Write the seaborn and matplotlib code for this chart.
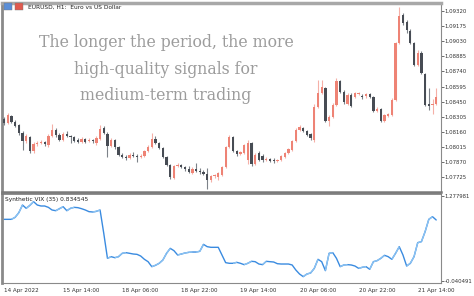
import numpy as np
import pandas as pd
import matplotlib
matplotlib.use("Agg")
import matplotlib.pyplot as plt
import matplotlib.patches as mpatches
import seaborn as sns

# ---------------- data (EURUSD H1) ----------------
opens = [1.08283, 1.08245, 1.08312, 1.08254, 1.08226, 1.08149, 1.08072, 1.08110, 1.07976, 1.08043,
         1.08053, 1.08062, 1.08034, 1.08120, 1.08178, 1.08130, 1.08082, 1.08139, 1.08120, 1.08110,
         1.08082, 1.08062, 1.08091, 1.08072, 1.08082, 1.08053, 1.08091, 1.08197, 1.08139, 1.08024,
         1.08082, 1.08014, 1.07938, 1.07918, 1.07909, 1.07938, 1.07928, 1.07918, 1.07928, 1.07976,
         1.08014, 1.08091, 1.08053, 1.08005, 1.07918, 1.07842, 1.07717, 1.07832, 1.07842, 1.07822,
         1.07803, 1.07765, 1.07803, 1.07784, 1.07774, 1.07755, 1.07698, 1.07736, 1.07726, 1.07746,
         1.07822, 1.08014, 1.08110, 1.07976, 1.07947, 1.07957, 1.07890, 1.08053, 1.07851, 1.07957,
         1.07928, 1.07890, 1.07899, 1.07890, 1.07880, 1.07890, 1.07918, 1.07957, 1.07986, 1.08072,
         1.08178, 1.08197, 1.08168, 1.08139, 1.08082, 1.08398, 1.08533, 1.08581, 1.08264, 1.08302,
         1.08418, 1.08648, 1.08542, 1.08427, 1.08514, 1.08494, 1.08523, 1.08504, 1.08504, 1.08523,
         1.08494, 1.08360, 1.08379, 1.08264, 1.08312, 1.08322, 1.08466, 1.09013, 1.09282, 1.09214,
         1.09128, 1.09013, 1.08802, 1.08917, 1.08715, 1.08427, 1.08418, 1.08427]
closes = [1.08245, 1.08322, 1.08254, 1.08216, 1.08149, 1.08072, 1.08120, 1.07976, 1.08043, 1.08053,
          1.08062, 1.08043, 1.08120, 1.08178, 1.08130, 1.08082, 1.08139, 1.08120, 1.08110, 1.08072,
          1.08062, 1.08091, 1.08062, 1.08082, 1.08072, 1.08101, 1.08187, 1.08149, 1.08024, 1.08082,
          1.08014, 1.07938, 1.07918, 1.07909, 1.07938, 1.07928, 1.07918, 1.07928, 1.07976, 1.08014,
          1.08091, 1.08053, 1.08005, 1.07918, 1.07842, 1.07726, 1.07832, 1.07842, 1.07822, 1.07803,
          1.07774, 1.07803, 1.07784, 1.07774, 1.07755, 1.07698, 1.07736, 1.07746, 1.07765, 1.07822,
          1.08014, 1.08110, 1.07976, 1.07947, 1.07966, 1.08034, 1.08053, 1.07851, 1.07938, 1.07890,
          1.07890, 1.07899, 1.07880, 1.07880, 1.07890, 1.07928, 1.07957, 1.07995, 1.08072, 1.08178,
          1.08206, 1.08168, 1.08130, 1.08101, 1.08398, 1.08533, 1.08590, 1.08264, 1.08302, 1.08418,
          1.08648, 1.08542, 1.08446, 1.08514, 1.08408, 1.08533, 1.08533, 1.08494, 1.08523, 1.08494,
          1.08360, 1.08379, 1.08264, 1.08322, 1.08331, 1.08466, 1.09013, 1.09272, 1.09205, 1.09138,
          1.09013, 1.08802, 1.08917, 1.08725, 1.08418, 1.08408, 1.08427, 1.08494]
highs = [1.08302, 1.08341, 1.08322, 1.08274, 1.08235, 1.08168, 1.08139, 1.08120, 1.08062, 1.08072,
         1.08082, 1.08072, 1.08139, 1.08235, 1.08197, 1.08149, 1.08158, 1.08168, 1.08130, 1.08120,
         1.08101, 1.08110, 1.08101, 1.08101, 1.08091, 1.08120, 1.08226, 1.08216, 1.08158, 1.08101,
         1.08091, 1.08024, 1.07957, 1.07938, 1.07957, 1.07966, 1.07947, 1.07947, 1.07986, 1.08034,
         1.08149, 1.08120, 1.08062, 1.08014, 1.07928, 1.07851, 1.07842, 1.07861, 1.07851, 1.07832,
         1.07832, 1.07822, 1.07861, 1.07813, 1.07794, 1.07813, 1.07746, 1.07755, 1.07774, 1.07832,
         1.08024, 1.08130, 1.08120, 1.07986, 1.07976, 1.08043, 1.08082, 1.08062, 1.07957, 1.07976,
         1.07947, 1.07918, 1.07909, 1.07909, 1.07899, 1.07938, 1.07966, 1.08005, 1.08082, 1.08197,
         1.08226, 1.08206, 1.08178, 1.08149, 1.08427, 1.08658, 1.08658, 1.08590, 1.08322, 1.08437,
         1.08677, 1.08658, 1.08562, 1.08533, 1.08533, 1.08542, 1.08542, 1.08523, 1.08533, 1.08533,
         1.08504, 1.08398, 1.08389, 1.08331, 1.08341, 1.08485, 1.09022, 1.09358, 1.09301, 1.09234,
         1.09147, 1.09022, 1.08946, 1.08936, 1.08725, 1.08581, 1.08475, 1.08581]
lows = [1.08226, 1.08235, 1.08245, 1.08206, 1.08130, 1.07986, 1.08053, 1.07957, 1.07957, 1.08024,
        1.08043, 1.08024, 1.08014, 1.08110, 1.08110, 1.08072, 1.08072, 1.08110, 1.08053, 1.08062,
        1.08053, 1.08053, 1.08053, 1.08062, 1.08053, 1.08034, 1.08082, 1.08139, 1.07918, 1.08014,
        1.07995, 1.07928, 1.07909, 1.07890, 1.07899, 1.07918, 1.07870, 1.07909, 1.07918, 1.07966,
        1.08005, 1.08043, 1.07995, 1.07909, 1.07832, 1.07707, 1.07707, 1.07822, 1.07813, 1.07784,
        1.07765, 1.07755, 1.07774, 1.07755, 1.07746, 1.07611, 1.07678, 1.07717, 1.07698, 1.07736,
        1.07813, 1.08005, 1.07966, 1.07928, 1.07938, 1.07947, 1.07851, 1.07832, 1.07842, 1.07880,
        1.07870, 1.07880, 1.07870, 1.07861, 1.07870, 1.07880, 1.07909, 1.07947, 1.07976, 1.08062,
        1.08168, 1.08158, 1.08120, 1.08082, 1.08062, 1.08389, 1.08523, 1.08254, 1.08216, 1.08293,
        1.08408, 1.08533, 1.08427, 1.08418, 1.08398, 1.08485, 1.08514, 1.08475, 1.08485, 1.08485,
        1.08350, 1.08350, 1.08254, 1.08254, 1.08302, 1.08312, 1.08456, 1.09003, 1.09186, 1.09109,
        1.09003, 1.08792, 1.08792, 1.08715, 1.08408, 1.08370, 1.08331, 1.08418]

vix = [0.916, 0.916, 0.916, 0.947, 1.019, 1.138, 1.087, 1.133, 1.190, 1.138,
       1.123, 1.123, 1.102, 1.061, 1.050, 1.081, 1.112, 1.050, 1.087, 1.102,
       1.097, 1.081, 1.061, 1.035, 1.030, 1.040, 1.061, 0.699, 0.311, 0.337,
       0.321, 0.337, 0.389, 0.399, 0.389, 0.378, 0.373, 0.347, 0.296, 0.259,
       0.182, 0.203, 0.234, 0.285, 0.389, 0.466, 0.430, 0.363, 0.378, 0.394,
       0.404, 0.409, 0.409, 0.420, 0.528, 0.492, 0.482, 0.482, 0.482, 0.363,
       0.244, 0.234, 0.234, 0.249, 0.234, 0.213, 0.234, 0.265, 0.259, 0.223,
       0.213, 0.265, 0.259, 0.254, 0.228, 0.223, 0.223, 0.223, 0.208, 0.130,
       0.068, 0.027, 0.068, 0.084, 0.156, 0.296, 0.259, 0.120, 0.389, 0.399,
       0.311, 0.182, 0.208, 0.213, 0.208, 0.192, 0.156, 0.172, 0.182, 0.141,
       0.259, 0.275, 0.311, 0.358, 0.337, 0.296, 0.389, 0.492, 0.363, 0.192,
       0.234, 0.337, 0.554, 0.570, 0.725, 0.916, 0.957, 0.906]

time_labels = ["14 Apr 2022", "15 Apr 14:00", "18 Apr 06:00", "18 Apr 22:00",
               "19 Apr 14:00", "20 Apr 06:00", "20 Apr 22:00", "21 Apr 14:00"]
bars_per_label = 16
price_ticks = [1.09320, 1.09175, 1.09030, 1.08885, 1.08740, 1.08595,
               1.08450, 1.08305, 1.08160, 1.08015, 1.07870, 1.07725]
vix_ticks = [1.277981, -0.040491]
symbol_text = "EURUSD, H1:  Euro vs US Dollar"
indicator_text = "Synthetic VIX (35) 0.834545"
overlay_text = "The longer the period, the more\nhigh-quality signals for\nmedium-term trading"

# ---------------- figure ----------------
sns.set_style("white")
plt.rcParams["font.family"] = ["DejaVu Sans"]

W, H = 474, 296
fig = plt.figure(figsize=(W / 100, H / 100), dpi=100)
fig.patch.set_facecolor("white")

left = 2 / W
right = 441 / W
ax1 = fig.add_axes([left, 1 - 192 / H, right - left, (192 - 3) / H])
ax2 = fig.add_axes([left, 1 - 283 / H, right - left, (283 - 194) / H])

df = pd.DataFrame({"idx": np.arange(len(opens)), "open": opens, "high": highs,
                   "low": lows, "close": closes})
up = (df["close"] >= df["open"]).to_numpy()
body_col = np.where(up, "#ee8375", "#474c54")
wick_col = np.where(up, "#f5b0a7", "#7d8289")

ax1.vlines(df["idx"], df["low"], df["high"], colors=wick_col, linewidth=0.8, zorder=2)
ax1.bar(df["idx"], df["close"] - df["open"], bottom=df["open"], width=0.62,
        color=body_col, linewidth=0, zorder=3)

xmin, xmax = -0.55, 118.3
ax1.set_xlim(xmin, xmax)
ax1.set_ylim(1.07582, 1.09397)

# VIX panel
vdf = pd.DataFrame({"idx": np.arange(len(vix)), "vix": vix})
sns.lineplot(data=vdf, x="idx", y="vix", ax=ax2, color="#3a8be0", linewidth=1.0, zorder=2)
for i in range(len(vix) - 1):
    if vix[i + 1] > vix[i]:
        ax2.plot([i, i + 1], [vix[i], vix[i + 1]], color="#8cc3f2", linewidth=1.0,
                 solid_capstyle="butt", zorder=3)
ax2.set_xlim(xmin, xmax)
ax2.set_ylim(-0.0715, 1.309)

# axes styling
for ax in (ax1, ax2):
    ax.set_facecolor("white")
    ax.set_xlabel("")
    ax.set_ylabel("")
    for s in ax.spines.values():
        s.set_color("#8a8a8a")
        s.set_linewidth(0.8)
    ax.yaxis.tick_right()
    ax.tick_params(axis="y", direction="out", length=2.0, width=0.6, color="#555555",
                   labelsize=3.9, labelcolor="#333333", pad=0.8)
ax1.spines["left"].set_linewidth(2.0)
ax2.spines["left"].set_linewidth(2.0)
ax1.spines["top"].set_linewidth(2.5)
ax1.spines["top"].set_color("#a8a8a8")
ax1.spines["bottom"].set_linewidth(1.8)
ax1.spines["bottom"].set_color("#7a7a7a")
ax2.spines["top"].set_linewidth(1.2)
ax2.spines["top"].set_color("#7a7a7a")

ax1.set_yticks(price_ticks)
ax1.set_yticklabels([f"{v:.5f}" for v in price_ticks])
ax1.set_xticks([])

ax2.set_yticks(vix_ticks)
ax2.set_yticklabels([f"{v:.6f}" for v in vix_ticks])
ax2.set_xticks([i * bars_per_label for i in range(len(time_labels))])
ax2.set_xticklabels(time_labels, ha="left")
ax2.tick_params(axis="x", direction="out", length=2.5, width=0.6, color="#555555",
                labelsize=4.1, labelcolor="#333333", pad=1)

# texts
fig.text(28 / W, 1 - 7 / H, symbol_text, fontsize=4.2, color="#222222", va="center", ha="left")
fig.add_artist(mpatches.Rectangle((4 / W, 1 - 10 / H), 8 / W, 7 / H, transform=fig.transFigure,
                                  facecolor="#5b8fd8", edgecolor="#7a7a7a", linewidth=0.3))
fig.add_artist(mpatches.Rectangle((15 / W, 1 - 10 / H), 8 / W, 7 / H, transform=fig.transFigure,
                                  facecolor="#e05a4e", edgecolor="#7a7a7a", linewidth=0.3))
ax2.text(0.006, 0.97, indicator_text, transform=ax2.transAxes, fontsize=4.2,
         color="#222222", va="top", ha="left")

fig.text(166 / W, 1 - 69 / H, overlay_text, fontsize=12.6, color="#9c9c9c",
         family="DejaVu Serif", fontstretch="condensed", ha="center", va="center",
         linespacing=1.72, zorder=10)

fig.savefig("out.png", dpi=100, facecolor="white")
